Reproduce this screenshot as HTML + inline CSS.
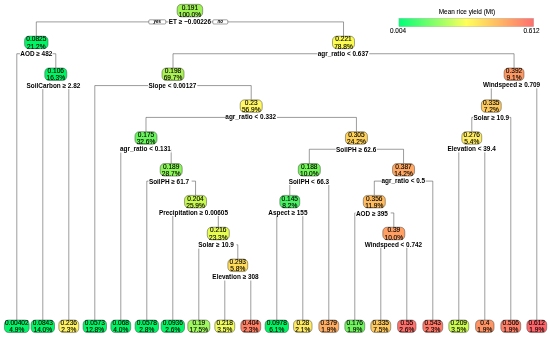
<!DOCTYPE html>
<html><head><meta charset="utf-8"><title>Regression tree</title>
<style>
html,body{margin:0;padding:0;background:#fff;}
body{width:550px;height:337px;overflow:hidden;}
svg{display:block;}
text{font-family:"Liberation Sans",Arial,sans-serif;text-anchor:middle;fill:#000;}
.nt{font-size:7.2px;stroke:#000;stroke-width:0.12px;}
.sl{font-size:6.9px;font-weight:bold;fill:#000;}
.yn{font-size:4.5px;font-style:italic;font-weight:bold;}
.lt{font-size:6.9px;stroke:#000;stroke-width:0.08px;}
</style></head><body>
<svg width="550" height="337" viewBox="0 0 550 337">
<defs><linearGradient id="lg" x1="0" x2="1" y1="0" y2="0"><stop offset="0" stop-color="#00ff78"/><stop offset="0.5" stop-color="#ffff5a"/><stop offset="1" stop-color="#ff6e6e"/></linearGradient></defs>
<rect width="550" height="337" fill="#fff"/>
<path d="M55.80 85.58H42.80V320.05 M55.80 85.58H68.80V320.05 M36.30 53.74H16.80V320.05 M36.30 53.74H55.80V68.03 M237.80 276.62H224.80V320.05 M237.80 276.62H250.80V320.05 M218.30 244.78H198.80V320.05 M218.30 244.78H237.80V259.07 M195.55 212.94H172.80V320.05 M195.55 212.94H218.30V227.23 M171.18 181.10H146.80V320.05 M171.18 181.10H195.55V195.39 M145.99 149.26H120.80V320.05 M145.99 149.26H171.18V163.55 M289.80 212.94H276.80V320.05 M289.80 212.94H302.80V320.05 M309.30 181.10H289.80V195.39 M309.30 181.10H328.80V320.05 M393.80 244.78H380.80V320.05 M393.80 244.78H406.80V320.05 M374.30 212.94H354.80V320.05 M374.30 212.94H393.80V227.23 M403.55 181.10H374.30V195.39 M403.55 181.10H432.80V320.05 M356.43 149.26H309.30V163.55 M356.43 149.26H403.55V163.55 M251.21 117.42H145.99V131.71 M251.21 117.42H356.43V131.71 M173.00 85.58H94.80V320.05 M173.00 85.58H251.21V99.87 M471.80 149.26H458.80V320.05 M471.80 149.26H484.80V320.05 M491.30 117.42H471.80V131.71 M491.30 117.42H510.80V320.05 M514.05 85.58H491.30V99.87 M514.05 85.58H536.80V320.05 M343.53 53.74H173.00V68.03 M343.53 53.74H514.05V68.03 M189.91 21.90H36.30V36.19 M189.91 21.90H343.53V36.19" fill="none" stroke="#4a4a4a" stroke-width="0.55"/>
<rect x="26.19" y="81.90" width="56.83" height="7.2" fill="#fff"/>
<text transform="translate(53.40 87.90) scale(0.93 1)" class="sl">SoilCarbon ≥ 2.82</text>
<rect x="19.92" y="50.00" width="32.77" height="7.2" fill="#fff"/>
<text transform="translate(36.30 56.00) scale(0.93 1)" class="sl">AOD ≥ 482</text>
<rect x="212.01" y="273.30" width="49.28" height="7.2" fill="#fff"/>
<text transform="translate(235.50 279.30) scale(0.93 1)" class="sl">Elevation ≥ 308</text>
<rect x="197.94" y="241.40" width="38.53" height="7.2" fill="#fff"/>
<text transform="translate(216.10 247.40) scale(0.93 1)" class="sl">Solar ≥ 10.9</text>
<rect x="158.59" y="208.80" width="71.81" height="7.2" fill="#fff"/>
<text transform="translate(193.45 214.80) scale(0.93 1)" class="sl">Precipitation ≥ 0.00605</text>
<rect x="148.51" y="177.80" width="43.14" height="7.2" fill="#fff"/>
<text transform="translate(168.98 183.80) scale(0.93 1)" class="sl">SoilPH ≥ 61.7</text>
<rect x="119.65" y="145.30" width="52.07" height="7.2" fill="#fff"/>
<text transform="translate(145.39 151.30) scale(0.93 1)" class="sl">agr_ratio &lt; 0.131</text>
<rect x="267.96" y="209.00" width="41.78" height="7.2" fill="#fff"/>
<text transform="translate(287.90 215.00) scale(0.93 1)" class="sl">Aspect ≥ 155</text>
<rect x="288.32" y="177.80" width="41.56" height="7.2" fill="#fff"/>
<text transform="translate(308.90 183.80) scale(0.93 1)" class="sl">SoilPH &lt; 66.3</text>
<rect x="364.33" y="240.60" width="58.55" height="7.2" fill="#fff"/>
<text transform="translate(393.40 246.60) scale(0.93 1)" class="sl">Windspeed &lt; 0.742</text>
<rect x="355.52" y="209.50" width="35.17" height="7.2" fill="#fff"/>
<text transform="translate(371.90 215.50) scale(0.93 1)" class="sl">AOD ≥ 395</text>
<rect x="381.07" y="177.10" width="44.66" height="7.2" fill="#fff"/>
<text transform="translate(403.25 183.10) scale(0.93 1)" class="sl">agr_ratio &lt; 0.5</text>
<rect x="335.66" y="145.60" width="41.24" height="7.2" fill="#fff"/>
<text transform="translate(356.12 151.60) scale(0.93 1)" class="sl">SoilPH ≥ 62.6</text>
<rect x="224.97" y="113.40" width="51.97" height="7.2" fill="#fff"/>
<text transform="translate(250.71 119.40) scale(0.93 1)" class="sl">agr_ratio &lt; 0.332</text>
<rect x="148.09" y="81.60" width="49.23" height="7.2" fill="#fff"/>
<text transform="translate(172.40 87.60) scale(0.93 1)" class="sl">Slope &lt; 0.00127</text>
<rect x="447.11" y="145.20" width="49.18" height="7.2" fill="#fff"/>
<text transform="translate(471.60 151.20) scale(0.93 1)" class="sl">Elevation &lt; 39.4</text>
<rect x="473.14" y="113.70" width="36.33" height="7.2" fill="#fff"/>
<text transform="translate(491.30 119.70) scale(0.93 1)" class="sl">Solar ≥ 10.9</text>
<rect x="482.59" y="81.20" width="60.42" height="7.2" fill="#fff"/>
<text transform="translate(511.55 87.20) scale(0.93 1)" class="sl">Windspeed ≥ 0.709</text>
<rect x="317.39" y="49.80" width="51.87" height="7.2" fill="#fff"/>
<text transform="translate(343.13 55.80) scale(0.93 1)" class="sl">agr_ratio &lt; 0.637</text>
<rect x="168.46" y="18.30" width="42.90" height="7.2" fill="#fff"/>
<text transform="translate(189.91 24.30) scale(0.93 1)" class="sl">ET ≥ −0.00226</text>
<rect x="4.45" y="320.05" width="24.70" height="12.5" rx="4.2" ry="4.2" fill="#00f569" stroke="#444" stroke-width="0.5"/>
<text transform="translate(16.80 325.30) scale(0.915 1)" class="nt">0.00402</text>
<text transform="translate(16.80 332.40) scale(0.915 1)" class="nt">4.9%</text>
<rect x="31.09" y="320.05" width="23.41" height="12.5" rx="4.2" ry="4.2" fill="#00f565" stroke="#444" stroke-width="0.5"/>
<text transform="translate(42.80 325.30) scale(0.915 1)" class="nt">0.0843</text>
<text transform="translate(42.80 332.40) scale(0.915 1)" class="nt">14.0%</text>
<rect x="58.87" y="320.05" width="19.86" height="12.5" rx="4.2" ry="4.2" fill="#fff364" stroke="#444" stroke-width="0.5"/>
<text transform="translate(68.80 325.30) scale(0.915 1)" class="nt">0.236</text>
<text transform="translate(68.80 332.40) scale(0.915 1)" class="nt">2.3%</text>
<rect x="44.81" y="68.03" width="21.99" height="12.5" rx="4.2" ry="4.2" fill="#00f564" stroke="#444" stroke-width="0.5"/>
<text transform="translate(55.80 73.28) scale(0.915 1)" class="nt">0.106</text>
<text transform="translate(55.80 80.38) scale(0.915 1)" class="nt">16.3%</text>
<rect x="24.59" y="36.19" width="23.41" height="12.5" rx="4.2" ry="4.2" fill="#00f565" stroke="#444" stroke-width="0.5"/>
<text transform="translate(36.30 41.44) scale(0.915 1)" class="nt">0.0825</text>
<text transform="translate(36.30 48.54) scale(0.915 1)" class="nt">21.2%</text>
<rect x="83.09" y="320.05" width="23.41" height="12.5" rx="4.2" ry="4.2" fill="#00f566" stroke="#444" stroke-width="0.5"/>
<text transform="translate(94.80 325.30) scale(0.915 1)" class="nt">0.0573</text>
<text transform="translate(94.80 332.40) scale(0.915 1)" class="nt">12.8%</text>
<rect x="110.87" y="320.05" width="19.86" height="12.5" rx="4.2" ry="4.2" fill="#00f566" stroke="#444" stroke-width="0.5"/>
<text transform="translate(120.80 325.30) scale(0.915 1)" class="nt">0.068</text>
<text transform="translate(120.80 332.40) scale(0.915 1)" class="nt">4.0%</text>
<rect x="135.09" y="320.05" width="23.41" height="12.5" rx="4.2" ry="4.2" fill="#00f566" stroke="#444" stroke-width="0.5"/>
<text transform="translate(146.80 325.30) scale(0.915 1)" class="nt">0.0578</text>
<text transform="translate(146.80 332.40) scale(0.915 1)" class="nt">2.8%</text>
<rect x="161.09" y="320.05" width="23.41" height="12.5" rx="4.2" ry="4.2" fill="#00f565" stroke="#444" stroke-width="0.5"/>
<text transform="translate(172.80 325.30) scale(0.915 1)" class="nt">0.0936</text>
<text transform="translate(172.80 332.40) scale(0.915 1)" class="nt">2.6%</text>
<rect x="187.81" y="320.05" width="21.99" height="12.5" rx="4.2" ry="4.2" fill="#9ef75e" stroke="#444" stroke-width="0.5"/>
<text transform="translate(198.80 325.30) scale(0.915 1)" class="nt">0.19</text>
<text transform="translate(198.80 332.40) scale(0.915 1)" class="nt">17.5%</text>
<rect x="214.87" y="320.05" width="19.86" height="12.5" rx="4.2" ry="4.2" fill="#f0fc5f" stroke="#444" stroke-width="0.5"/>
<text transform="translate(224.80 325.30) scale(0.915 1)" class="nt">0.218</text>
<text transform="translate(224.80 332.40) scale(0.915 1)" class="nt">3.5%</text>
<rect x="240.87" y="320.05" width="19.86" height="12.5" rx="4.2" ry="4.2" fill="#ff8064" stroke="#444" stroke-width="0.5"/>
<text transform="translate(250.80 325.30) scale(0.915 1)" class="nt">0.404</text>
<text transform="translate(250.80 332.40) scale(0.915 1)" class="nt">2.3%</text>
<rect x="227.87" y="259.07" width="19.86" height="12.5" rx="4.2" ry="4.2" fill="#ffdc5c" stroke="#444" stroke-width="0.5"/>
<text transform="translate(237.80 264.32) scale(0.915 1)" class="nt">0.293</text>
<text transform="translate(237.80 271.42) scale(0.915 1)" class="nt">5.8%</text>
<rect x="207.31" y="227.23" width="21.99" height="12.5" rx="4.2" ry="4.2" fill="#e6fc52" stroke="#444" stroke-width="0.5"/>
<text transform="translate(218.30 232.48) scale(0.915 1)" class="nt">0.216</text>
<text transform="translate(218.30 239.58) scale(0.915 1)" class="nt">23.3%</text>
<rect x="184.56" y="195.39" width="21.99" height="12.5" rx="4.2" ry="4.2" fill="#c8fa52" stroke="#444" stroke-width="0.5"/>
<text transform="translate(195.55 200.64) scale(0.915 1)" class="nt">0.204</text>
<text transform="translate(195.55 207.74) scale(0.915 1)" class="nt">25.9%</text>
<rect x="160.18" y="163.55" width="21.99" height="12.5" rx="4.2" ry="4.2" fill="#8cf65a" stroke="#444" stroke-width="0.5"/>
<text transform="translate(171.18 168.80) scale(0.915 1)" class="nt">0.189</text>
<text transform="translate(171.18 175.90) scale(0.915 1)" class="nt">28.7%</text>
<rect x="134.99" y="131.71" width="21.99" height="12.5" rx="4.2" ry="4.2" fill="#69f55c" stroke="#444" stroke-width="0.5"/>
<text transform="translate(145.99 136.96) scale(0.915 1)" class="nt">0.175</text>
<text transform="translate(145.99 144.06) scale(0.915 1)" class="nt">32.6%</text>
<rect x="265.09" y="320.05" width="23.41" height="12.5" rx="4.2" ry="4.2" fill="#00f564" stroke="#444" stroke-width="0.5"/>
<text transform="translate(276.80 325.30) scale(0.915 1)" class="nt">0.0978</text>
<text transform="translate(276.80 332.40) scale(0.915 1)" class="nt">6.1%</text>
<rect x="293.58" y="320.05" width="18.44" height="12.5" rx="4.2" ry="4.2" fill="#ffeb64" stroke="#444" stroke-width="0.5"/>
<text transform="translate(302.80 325.30) scale(0.915 1)" class="nt">0.28</text>
<text transform="translate(302.80 332.40) scale(0.915 1)" class="nt">2.1%</text>
<rect x="279.87" y="195.39" width="19.86" height="12.5" rx="4.2" ry="4.2" fill="#48f262" stroke="#444" stroke-width="0.5"/>
<text transform="translate(289.80 200.64) scale(0.915 1)" class="nt">0.145</text>
<text transform="translate(289.80 207.74) scale(0.915 1)" class="nt">8.2%</text>
<rect x="318.87" y="320.05" width="19.86" height="12.5" rx="4.2" ry="4.2" fill="#ffae64" stroke="#444" stroke-width="0.5"/>
<text transform="translate(328.80 325.30) scale(0.915 1)" class="nt">0.379</text>
<text transform="translate(328.80 332.40) scale(0.915 1)" class="nt">1.9%</text>
<rect x="298.31" y="163.55" width="21.99" height="12.5" rx="4.2" ry="4.2" fill="#74f55a" stroke="#444" stroke-width="0.5"/>
<text transform="translate(309.30 168.80) scale(0.915 1)" class="nt">0.188</text>
<text transform="translate(309.30 175.90) scale(0.915 1)" class="nt">10.0%</text>
<rect x="344.87" y="320.05" width="19.86" height="12.5" rx="4.2" ry="4.2" fill="#70f55f" stroke="#444" stroke-width="0.5"/>
<text transform="translate(354.80 325.30) scale(0.915 1)" class="nt">0.176</text>
<text transform="translate(354.80 332.40) scale(0.915 1)" class="nt">1.9%</text>
<rect x="370.87" y="320.05" width="19.86" height="12.5" rx="4.2" ry="4.2" fill="#ffca5f" stroke="#444" stroke-width="0.5"/>
<text transform="translate(380.80 325.30) scale(0.915 1)" class="nt">0.335</text>
<text transform="translate(380.80 332.40) scale(0.915 1)" class="nt">7.5%</text>
<rect x="397.58" y="320.05" width="18.44" height="12.5" rx="4.2" ry="4.2" fill="#ff716c" stroke="#444" stroke-width="0.5"/>
<text transform="translate(406.80 325.30) scale(0.915 1)" class="nt">0.55</text>
<text transform="translate(406.80 332.40) scale(0.915 1)" class="nt">2.6%</text>
<rect x="382.81" y="227.23" width="21.99" height="12.5" rx="4.2" ry="4.2" fill="#ff9f64" stroke="#444" stroke-width="0.5"/>
<text transform="translate(393.80 232.48) scale(0.915 1)" class="nt">0.39</text>
<text transform="translate(393.80 239.58) scale(0.915 1)" class="nt">10.0%</text>
<rect x="363.31" y="195.39" width="21.99" height="12.5" rx="4.2" ry="4.2" fill="#ffbb5f" stroke="#444" stroke-width="0.5"/>
<text transform="translate(374.30 200.64) scale(0.915 1)" class="nt">0.356</text>
<text transform="translate(374.30 207.74) scale(0.915 1)" class="nt">11.9%</text>
<rect x="422.87" y="320.05" width="19.86" height="12.5" rx="4.2" ry="4.2" fill="#ff7868" stroke="#444" stroke-width="0.5"/>
<text transform="translate(432.80 325.30) scale(0.915 1)" class="nt">0.543</text>
<text transform="translate(432.80 332.40) scale(0.915 1)" class="nt">2.3%</text>
<rect x="392.56" y="163.55" width="21.99" height="12.5" rx="4.2" ry="4.2" fill="#ffa864" stroke="#444" stroke-width="0.5"/>
<text transform="translate(403.55 168.80) scale(0.915 1)" class="nt">0.387</text>
<text transform="translate(403.55 175.90) scale(0.915 1)" class="nt">14.2%</text>
<rect x="345.43" y="131.71" width="21.99" height="12.5" rx="4.2" ry="4.2" fill="#ffd25a" stroke="#444" stroke-width="0.5"/>
<text transform="translate(356.43 136.96) scale(0.915 1)" class="nt">0.305</text>
<text transform="translate(356.43 144.06) scale(0.915 1)" class="nt">24.2%</text>
<rect x="240.21" y="99.87" width="21.99" height="12.5" rx="4.2" ry="4.2" fill="#fff764" stroke="#444" stroke-width="0.5"/>
<text transform="translate(251.21 105.12) scale(0.915 1)" class="nt">0.23</text>
<text transform="translate(251.21 112.22) scale(0.915 1)" class="nt">56.9%</text>
<rect x="162.01" y="68.03" width="21.99" height="12.5" rx="4.2" ry="4.2" fill="#aaf255" stroke="#444" stroke-width="0.5"/>
<text transform="translate(173.00 73.28) scale(0.915 1)" class="nt">0.198</text>
<text transform="translate(173.00 80.38) scale(0.915 1)" class="nt">69.7%</text>
<rect x="448.87" y="320.05" width="19.86" height="12.5" rx="4.2" ry="4.2" fill="#cdfc50" stroke="#444" stroke-width="0.5"/>
<text transform="translate(458.80 325.30) scale(0.915 1)" class="nt">0.209</text>
<text transform="translate(458.80 332.40) scale(0.915 1)" class="nt">3.5%</text>
<rect x="475.58" y="320.05" width="18.44" height="12.5" rx="4.2" ry="4.2" fill="#ff9464" stroke="#444" stroke-width="0.5"/>
<text transform="translate(484.80 325.30) scale(0.915 1)" class="nt">0.4</text>
<text transform="translate(484.80 332.40) scale(0.915 1)" class="nt">1.9%</text>
<rect x="461.87" y="131.71" width="19.86" height="12.5" rx="4.2" ry="4.2" fill="#ffed64" stroke="#444" stroke-width="0.5"/>
<text transform="translate(471.80 136.96) scale(0.915 1)" class="nt">0.276</text>
<text transform="translate(471.80 144.06) scale(0.915 1)" class="nt">5.4%</text>
<rect x="500.87" y="320.05" width="19.86" height="12.5" rx="4.2" ry="4.2" fill="#ff8068" stroke="#444" stroke-width="0.5"/>
<text transform="translate(510.80 325.30) scale(0.915 1)" class="nt">0.506</text>
<text transform="translate(510.80 332.40) scale(0.915 1)" class="nt">1.9%</text>
<rect x="481.37" y="99.87" width="19.86" height="12.5" rx="4.2" ry="4.2" fill="#ffca5f" stroke="#444" stroke-width="0.5"/>
<text transform="translate(491.30 105.12) scale(0.915 1)" class="nt">0.335</text>
<text transform="translate(491.30 112.22) scale(0.915 1)" class="nt">7.2%</text>
<rect x="526.87" y="320.05" width="19.86" height="12.5" rx="4.2" ry="4.2" fill="#ff6468" stroke="#444" stroke-width="0.5"/>
<text transform="translate(536.80 325.30) scale(0.915 1)" class="nt">0.612</text>
<text transform="translate(536.80 332.40) scale(0.915 1)" class="nt">1.9%</text>
<rect x="504.12" y="68.03" width="19.86" height="12.5" rx="4.2" ry="4.2" fill="#ff9964" stroke="#444" stroke-width="0.5"/>
<text transform="translate(514.05 73.28) scale(0.915 1)" class="nt">0.392</text>
<text transform="translate(514.05 80.38) scale(0.915 1)" class="nt">9.1%</text>
<rect x="332.53" y="36.19" width="21.99" height="12.5" rx="4.2" ry="4.2" fill="#fcfc50" stroke="#444" stroke-width="0.5"/>
<text transform="translate(343.53 41.44) scale(0.915 1)" class="nt">0.221</text>
<text transform="translate(343.53 48.54) scale(0.915 1)" class="nt">78.8%</text>
<rect x="177.16" y="4.35" width="25.50" height="12.5" rx="4.2" ry="4.2" fill="#9ef255" stroke="#444" stroke-width="0.5"/>
<text transform="translate(189.91 9.60) scale(0.915 1)" class="nt">0.191</text>
<text transform="translate(189.91 16.70) scale(0.915 1)" class="nt">100.0%</text>
<rect x="148.8" y="19.80" width="17.0" height="4.2" rx="1.1" fill="#fff" stroke="#444" stroke-width="0.5"/>
<text x="157.3" y="23.35" class="yn">yes</text>
<rect x="212.8" y="19.80" width="15.0" height="4.2" rx="1.1" fill="#fff" stroke="#444" stroke-width="0.5"/>
<text x="220.3" y="23.35" class="yn">no</text>
<rect x="398.9" y="18.3" width="134.8" height="8.4" fill="url(#lg)" stroke="#9a9a9a" stroke-width="0.3"/>
<text transform="translate(466.9 14.4) scale(0.93 1)" class="lt">Mean rice yield (Mt)</text>
<text transform="translate(398.0 32.7) scale(0.93 1)" class="lt">0.004</text>
<text transform="translate(531.5 32.7) scale(0.93 1)" class="lt">0.612</text>
</svg>
</body></html>
